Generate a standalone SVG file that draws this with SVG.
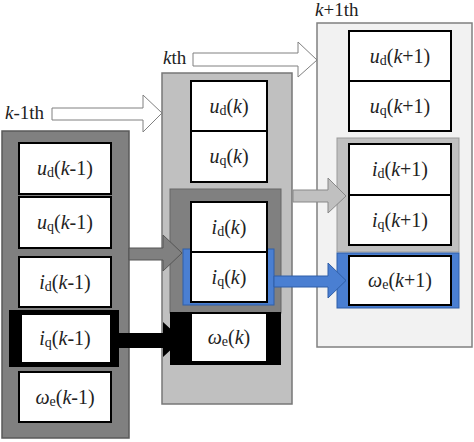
<svg xmlns="http://www.w3.org/2000/svg" width="474" height="442" viewBox="0 0 474 442">
<style>
.cell{fill:#fff;stroke:#000;stroke-width:2}
.lbl{font-family:"Liberation Serif","Times New Roman",serif;font-size:20px;fill:#222;text-anchor:middle}
.it{font-style:italic}
.sub{font-size:14px}
.hdr{font-family:"Liberation Serif","Times New Roman",serif;font-size:19px;fill:#222}
.hollow{fill:#fff;stroke:#808080;stroke-width:1}
</style>
<rect width="474" height="442" fill="#fff"/>
<g id="col-k-1">
<rect x="2" y="131" width="127" height="307" fill="#808080" stroke="#5a5a5a" stroke-width="1.5"/>
<rect x="9" y="310" width="110" height="57" fill="#000"/>
</g>
<g id="col-k">
<rect x="162" y="73" width="130" height="331" fill="#c0c0c0" stroke="#777" stroke-width="1.5"/>
<rect x="170" y="189" width="111" height="124" fill="#808080" stroke="#666" stroke-width="1"/>
<rect x="183" y="249" width="91" height="56" fill="#4a7fd2" stroke="#2f5fa8" stroke-width="1"/>
<rect x="170" y="312" width="111" height="53" fill="#000"/>
</g>
<g id="col-k1">
<rect x="317" y="23" width="155" height="324" fill="#f2f2f2" stroke="#808080" stroke-width="1.5"/>
<rect x="337" y="138" width="122" height="114" fill="#c0c0c0" stroke="#999" stroke-width="1"/>
<rect x="337" y="253" width="122" height="55" fill="#4a7fd2" stroke="#2f5fa8" stroke-width="1"/>
</g>
<g id="connectors">
<polygon class="hollow" points="52,108 143,108 143,95 162,113 143,132 143,120 52,120"/>
<polygon class="hollow" points="193,53 298,53 298,42 317,60 298,77 298,66 193,66"/>
<polygon points="129,248 163,248 163,235 182,253 163,271 163,260 129,260" fill="#808080" stroke="#555" stroke-width="1"/>
<polygon points="119,333 163,333 163,322 182,339.5 163,357 163,348 119,348" fill="#000"/>
<polygon points="293,190 328,190 328,178 346,196 328,213 328,202 293,202" fill="#c0c0c0" stroke="#888" stroke-width="1"/>
<polygon points="274,276 328,276 328,263 346,280.5 328,298 328,287 274,287" fill="#4a7fd2" stroke="#2f5fa8" stroke-width="1"/>
</g>
<g id="headers">
<text class="hdr" x="5" y="119"><tspan class="it">k</tspan>-1th</text>
<text class="hdr" x="163" y="64"><tspan class="it">k</tspan>th</text>
<text class="hdr" x="315" y="16"><tspan class="it">k</tspan>+1th</text>
</g>
<g id="nodes">
<g id="n-ud-k-1"><rect class="cell" x="19" y="143" width="92" height="51"/><text class="lbl" x="65" y="175"><tspan class="it">u</tspan><tspan class="sub" dy="2">d</tspan><tspan dy="-2">(</tspan><tspan class="it">k</tspan>-1)</text></g>
<g id="n-uq-k-1"><rect class="cell" x="19" y="197" width="92" height="51"/><text class="lbl" x="65" y="229"><tspan class="it">u</tspan><tspan class="sub" dy="2">q</tspan><tspan dy="-2">(</tspan><tspan class="it">k</tspan>-1)</text></g>
<g id="n-id-k-1"><rect class="cell" x="19" y="257" width="92" height="50"/><text class="lbl" x="65" y="289"><tspan class="it">i</tspan><tspan class="sub" dy="2">d</tspan><tspan dy="-2">(</tspan><tspan class="it">k</tspan>-1)</text></g>
<g id="n-iq-k-1"><rect class="cell" x="21" y="314" width="90" height="49"/><text class="lbl" x="65" y="345"><tspan class="it">i</tspan><tspan class="sub" dy="2">q</tspan><tspan dy="-2">(</tspan><tspan class="it">k</tspan>-1)</text></g>
<g id="n-we-k-1"><rect class="cell" x="19" y="372" width="92" height="50"/><text class="lbl" x="65" y="404"><tspan class="it">ω</tspan><tspan class="sub" dy="2">e</tspan><tspan dy="-2">(</tspan><tspan class="it">k</tspan>-1)</text></g>
<g id="n-ud-k"><rect class="cell" x="191" y="81" width="76" height="50"/><text class="lbl" x="229" y="113"><tspan class="it">u</tspan><tspan class="sub" dy="2">d</tspan><tspan dy="-2">(</tspan><tspan class="it">k</tspan>)</text></g>
<g id="n-uq-k"><rect class="cell" x="191" y="131" width="76" height="51"/><text class="lbl" x="229" y="163"><tspan class="it">u</tspan><tspan class="sub" dy="2">q</tspan><tspan dy="-2">(</tspan><tspan class="it">k</tspan>)</text></g>
<g id="n-id-k"><rect class="cell" x="191" y="202" width="76" height="50"/><text class="lbl" x="229" y="234"><tspan class="it">i</tspan><tspan class="sub" dy="2">d</tspan><tspan dy="-2">(</tspan><tspan class="it">k</tspan>)</text></g>
<g id="n-iq-k"><rect class="cell" x="191" y="252" width="76" height="50"/><text class="lbl" x="229" y="284"><tspan class="it">i</tspan><tspan class="sub" dy="2">q</tspan><tspan dy="-2">(</tspan><tspan class="it">k</tspan>)</text></g>
<g id="n-we-k"><rect class="cell" x="191" y="313" width="76" height="49"/><text class="lbl" x="229" y="344"><tspan class="it">ω</tspan><tspan class="sub" dy="2">e</tspan><tspan dy="-2">(</tspan><tspan class="it">k</tspan>)</text></g>
<g id="n-ud-k1"><rect class="cell" x="349" y="31" width="102" height="50"/><text class="lbl" x="400" y="63"><tspan class="it">u</tspan><tspan class="sub" dy="2">d</tspan><tspan dy="-2">(</tspan><tspan class="it">k</tspan>+1)</text></g>
<g id="n-uq-k1"><rect class="cell" x="349" y="81" width="102" height="50"/><text class="lbl" x="400" y="113"><tspan class="it">u</tspan><tspan class="sub" dy="2">q</tspan><tspan dy="-2">(</tspan><tspan class="it">k</tspan>+1)</text></g>
<g id="n-id-k1"><rect class="cell" x="349" y="144" width="102" height="51"/><text class="lbl" x="400" y="176"><tspan class="it">i</tspan><tspan class="sub" dy="2">d</tspan><tspan dy="-2">(</tspan><tspan class="it">k</tspan>+1)</text></g>
<g id="n-iq-k1"><rect class="cell" x="349" y="195" width="102" height="50"/><text class="lbl" x="400" y="227"><tspan class="it">i</tspan><tspan class="sub" dy="2">q</tspan><tspan dy="-2">(</tspan><tspan class="it">k</tspan>+1)</text></g>
<g id="n-we-k1"><rect class="cell" x="349" y="256" width="102" height="49"/><text class="lbl" x="400" y="287"><tspan class="it">ω</tspan><tspan class="sub" dy="2">e</tspan><tspan dy="-2">(</tspan><tspan class="it">k</tspan>+1)</text></g>
</g>
</svg>
